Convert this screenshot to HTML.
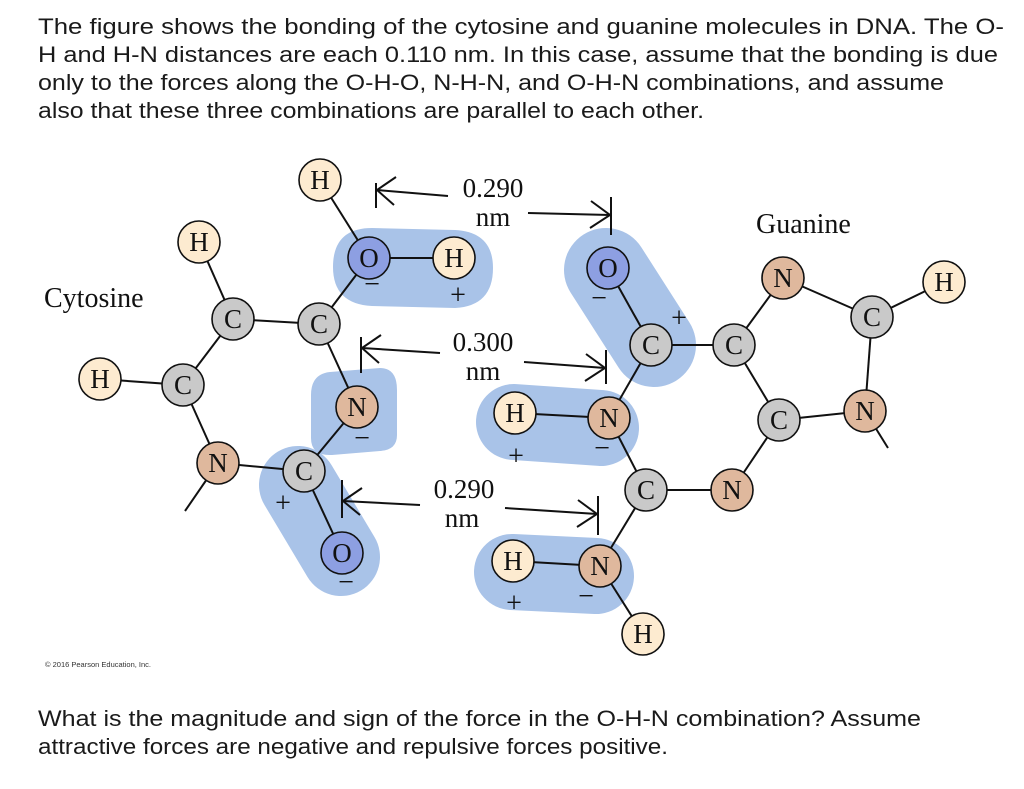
<!DOCTYPE html>
<html><head><meta charset="utf-8"><style>
html,body{margin:0;padding:0;background:#fff;}
svg{display:block;}
.p{font-family:"Liberation Sans",sans-serif;font-size:22px;fill:#1a1a1a;}
.s{font-family:"Liberation Serif",serif;fill:#111;}
.a{font-family:"Liberation Serif",serif;font-size:27px;text-anchor:middle;fill:#111;}
</style></head><body>
<svg width="1024" height="789" viewBox="0 0 1024 789" xmlns="http://www.w3.org/2000/svg">
<g class="p">
<text x="38" y="34" textLength="966" lengthAdjust="spacingAndGlyphs">The figure shows the bonding of the cytosine and guanine molecules in DNA. The O-</text>
<text x="38" y="62" textLength="960" lengthAdjust="spacingAndGlyphs">H and H-N distances are each 0.110 nm. In this case, assume that the bonding is due</text>
<text x="38" y="90" textLength="906" lengthAdjust="spacingAndGlyphs">only to the forces along the O-H-O, N-H-N, and O-H-N combinations, and assume</text>
<text x="38" y="118" textLength="666" lengthAdjust="spacingAndGlyphs">also that these three combinations are parallel to each other.</text>
<text x="38" y="726" textLength="883" lengthAdjust="spacingAndGlyphs">What is the magnitude and sign of the force in the O-H-N combination? Assume</text>
<text x="38" y="754" textLength="630" lengthAdjust="spacingAndGlyphs">attractive forces are negative and repulsive forces positive.</text>
</g>
<g fill="#a9c3e8" stroke="#a9c3e8" stroke-linecap="round">
<path d="M372,228 L455,230 Q493,232 493,268 Q493,306 455,308 L372,306 Q333,304 333,267 Q333,228 372,228 Z" stroke="none"/>
<path d="M330,372 L380,368 Q397,368 397,390 L397,435 Q397,450 380,451 L332,455 Q311,456 311,438 L311,395 Q311,374 330,372 Z" stroke="none"/>
<line x1="298" y1="485" x2="341" y2="557" stroke-width="78"/>
<line x1="514" y1="422" x2="601" y2="428" stroke-width="76"/>
<line x1="512" y1="572" x2="596" y2="576" stroke-width="76"/>
<line x1="606" y1="270" x2="654" y2="345" stroke-width="84"/>
</g>
<g stroke="#111" stroke-width="2">
<line x1="320" y1="180" x2="369" y2="258"/><line x1="369" y1="258" x2="454" y2="258"/>
<line x1="369" y1="258" x2="319" y2="324"/><line x1="199" y1="242" x2="233" y2="319"/>
<line x1="233" y1="319" x2="319" y2="324"/><line x1="233" y1="319" x2="183" y2="385"/>
<line x1="100" y1="379" x2="183" y2="385"/><line x1="183" y1="385" x2="218" y2="463"/>
<line x1="319" y1="324" x2="357" y2="407"/><line x1="357" y1="407" x2="304" y2="471"/>
<line x1="218" y1="463" x2="304" y2="471"/><line x1="304" y1="471" x2="342" y2="553"/>
<line x1="218" y1="463" x2="185" y2="511"/>
<line x1="608" y1="268" x2="651" y2="345"/><line x1="651" y1="345" x2="734" y2="345"/>
<line x1="734" y1="345" x2="783" y2="278"/><line x1="783" y1="278" x2="872" y2="317"/>
<line x1="872" y1="317" x2="944" y2="282"/><line x1="872" y1="317" x2="865" y2="411"/>
<line x1="734" y1="345" x2="779" y2="420"/><line x1="779" y1="420" x2="865" y2="411"/>
<line x1="865" y1="411" x2="888" y2="448"/><line x1="779" y1="420" x2="732" y2="490"/>
<line x1="732" y1="490" x2="646" y2="490"/><line x1="651" y1="345" x2="609" y2="418"/>
<line x1="515" y1="413" x2="609" y2="418"/><line x1="609" y1="418" x2="646" y2="490"/>
<line x1="646" y1="490" x2="600" y2="566"/><line x1="513" y1="561" x2="600" y2="566"/>
<line x1="600" y1="566" x2="643" y2="634"/>
</g>
<g stroke="#111" stroke-width="2" fill="none">
<line x1="376" y1="183" x2="376" y2="208"/><line x1="448" y1="196" x2="377" y2="190"/><polyline points="396,177 377,190 394,205"/>
<line x1="528" y1="213" x2="610" y2="215"/><line x1="611" y1="197" x2="611" y2="235"/><polyline points="591,201 610,215 590,228"/>
<line x1="361" y1="337" x2="361" y2="373"/><line x1="440" y1="353" x2="362" y2="348"/><polyline points="381,335 362,348 379,363"/>
<line x1="524" y1="362" x2="605" y2="368"/><line x1="606" y1="350" x2="606" y2="384"/><polyline points="586,354 605,368 585,381"/>
<line x1="342" y1="480" x2="342" y2="518"/><line x1="420" y1="505" x2="343" y2="501"/><polyline points="362,488 343,501 360,515"/>
<line x1="505" y1="508" x2="597" y2="514"/><line x1="598" y1="496" x2="598" y2="535"/><polyline points="578,500 597,514 577,527"/>
</g>
<g class="s" font-size="27" text-anchor="middle">
<text x="493" y="197">0.290</text><text x="493" y="226">nm</text>
<text x="483" y="351">0.300</text><text x="483" y="380">nm</text>
<text x="464" y="498">0.290</text><text x="462" y="527">nm</text>
</g>
<text class="s" font-size="28" x="44" y="307">Cytosine</text>
<text class="s" font-size="28" x="756" y="233">Guanine</text>
<g stroke="#111" stroke-width="1.6">
<g fill="#fdebd0">
<circle cx="320" cy="180" r="21"/><circle cx="454" cy="258" r="21"/><circle cx="199" cy="242" r="21"/>
<circle cx="100" cy="379" r="21"/><circle cx="944" cy="282" r="21"/><circle cx="515" cy="413" r="21"/>
<circle cx="513" cy="561" r="21"/><circle cx="643" cy="634" r="21"/>
</g>
<g fill="#c9c9c9">
<circle cx="233" cy="319" r="21"/><circle cx="319" cy="324" r="21"/><circle cx="183" cy="385" r="21"/>
<circle cx="304" cy="471" r="21"/><circle cx="651" cy="345" r="21"/><circle cx="734" cy="345" r="21"/>
<circle cx="872" cy="317" r="21"/><circle cx="779" cy="420" r="21"/><circle cx="646" cy="490" r="21"/>
</g>
<g fill="#dfb89d">
<circle cx="357" cy="407" r="21"/><circle cx="218" cy="463" r="21"/><circle cx="783" cy="278" r="21"/>
<circle cx="865" cy="411" r="21"/><circle cx="609" cy="418" r="21"/><circle cx="732" cy="490" r="21"/>
<circle cx="600" cy="566" r="21"/>
</g>
<g fill="#8d9fe2">
<circle cx="369" cy="258" r="21"/><circle cx="342" cy="553" r="21"/><circle cx="608" cy="268" r="21"/>
</g>
</g>
<g class="a">
<text x="320" y="189">H</text><text x="454" y="267">H</text><text x="199" y="251">H</text>
<text x="100" y="388">H</text><text x="944" y="291">H</text><text x="515" y="422">H</text>
<text x="513" y="570">H</text><text x="643" y="643">H</text>
<text x="233" y="328">C</text><text x="319" y="333">C</text><text x="183" y="394">C</text>
<text x="304" y="480">C</text><text x="651" y="354">C</text><text x="734" y="354">C</text>
<text x="872" y="326">C</text><text x="779" y="429">C</text><text x="646" y="499">C</text>
<text x="357" y="416">N</text><text x="218" y="472">N</text><text x="783" y="287">N</text>
<text x="865" y="420">N</text><text x="609" y="427">N</text><text x="732" y="499">N</text>
<text x="600" y="575">N</text>
<text x="369" y="267">O</text><text x="342" y="562">O</text><text x="608" y="277">O</text>
</g>
<g class="s" font-size="28" text-anchor="middle">
<text x="372" y="293">−</text><text x="458" y="304">+</text>
<text x="362" y="447">−</text><text x="283" y="512">+</text>
<text x="346" y="591">−</text><text x="599" y="307">−</text>
<text x="679" y="327">+</text><text x="516" y="465">+</text>
<text x="602" y="457">−</text><text x="514" y="612">+</text>
<text x="586" y="605">−</text>
</g>
<text x="45" y="667" font-family="Liberation Sans,sans-serif" font-size="7.5" fill="#333">© 2016 Pearson Education, Inc.</text>
</svg>
</body></html>
